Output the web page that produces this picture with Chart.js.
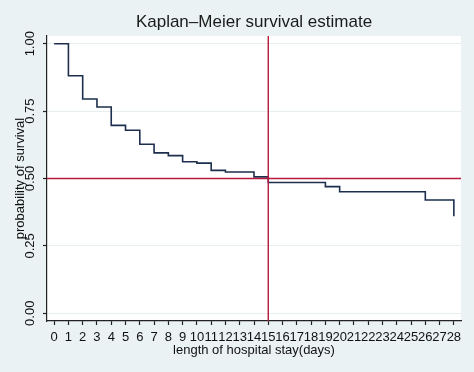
<!DOCTYPE html>
<html>
<head>
<meta charset="utf-8">
<script src="https://cdn.jsdelivr.net/npm/chart.js@4.4.1/dist/chart.umd.min.js"></script>
<style>
  html, body { margin: 0; padding: 0; background: #eaf2f3; }
  #wrap { width: 474px; height: 372px; }
</style>
</head>
<body>
<div id="wrap"><canvas id="kmChart" width="474" height="372"></canvas></div>
<script>
// Kaplan-Meier steps
const days = [0, 1, 2, 3, 4, 5, 6, 7, 8, 9, 10, 11, 12, 14, 15, 19, 20, 26, 28];
const survival = [1.00, 0.881, 0.795, 0.765, 0.697, 0.679, 0.627, 0.595, 0.585, 0.562, 0.557, 0.530, 0.524, 0.506, 0.485, 0.470, 0.451, 0.420, 0.360];
const xTicks = [0, 1, 2, 3, 4, 5, 6, 7, 8, 9, 10, 11, 12, 13, 14, 15, 16, 17, 18, 19, 20, 21, 22, 23, 24, 25, 26, 27, 28];
const yTicks = [0, 0.25, 0.5, 0.75, 1];
const medianSurvival = 0.5;
const medianDay = 15;

const X_MIN = -0.5, X_MAX = 28.5;
const Y_MIN = -0.0286, Y_MAX = 1.0286;

const navy = '#1d2f4d';
const red = '#b8183c';
const font = 'Arial, "Liberation Sans", sans-serif';

// white plot region
const plotBg = {
    id: 'plotBg',
    beforeDraw(chart) {
        const { ctx, chartArea: a } = chart;
        ctx.save();
        ctx.fillStyle = '#ffffff';
        ctx.fillRect(a.left, a.top, a.right - a.left, a.bottom - a.top);
        ctx.restore();
    }
};

new Chart(document.getElementById('kmChart'), {
    type: 'line',
    data: {
        datasets: [
            {
                data: days.map((d, i) => ({ x: d, y: survival[i] })),
                stepped: true,
                borderColor: navy,
                borderWidth: 1.6,
                pointRadius: 0,
                fill: false,
                order: 2
            },
            {
                data: [{ x: X_MIN, y: medianSurvival }, { x: X_MAX, y: medianSurvival }],
                borderColor: red,
                borderWidth: 1.4,
                pointRadius: 0,
                fill: false,
                order: 1
            },
            {
                data: [{ x: medianDay, y: Y_MIN }, { x: medianDay, y: Y_MAX }],
                borderColor: red,
                borderWidth: 1.4,
                pointRadius: 0,
                fill: false,
                order: 1
            }
        ]
    },
    options: {
        responsive: false,
        animation: false,
        layout: { padding: { left: 0, right: 13, top: 0, bottom: 0 } },
        plugins: {
            legend: { display: false },
            tooltip: { enabled: false },
            title: {
                display: true,
                text: 'Kaplan\u2013Meier survival estimate',
                fullSize: false,
                color: '#1a1a1a',
                font: { family: font, size: 17, weight: 'normal', lineHeight: 1.2 },
                padding: { top: 12, bottom: 3.6 }
            }
        },
        scales: {
            x: {
                type: 'linear',
                min: X_MIN,
                max: X_MAX,
                afterBuildTicks: s => { s.ticks = xTicks.map(v => ({ value: v })); },
                afterFit: s => { s.height = 51; },
                border: { display: true, color: '#222', width: 1.2 },
                grid: { display: true, drawOnChartArea: false, drawTicks: true, tickLength: 4, tickColor: '#222', tickWidth: 1.2 },
                ticks: {
                    autoSkip: false, maxRotation: 0, minRotation: 0, padding: 5,
                    color: '#111', font: { family: font, size: 13 }
                },
                title: {
                    display: true,
                    text: 'length of hospital stay(days)',
                    color: '#111',
                    font: { family: font, size: 13 },
                    padding: { top: 0, bottom: 14 }
                }
            },
            y: {
                type: 'linear',
                min: Y_MIN,
                max: Y_MAX,
                afterBuildTicks: s => { s.ticks = yTicks.map(v => ({ value: v })); },
                afterFit: s => { s.width = 47; },
                border: { display: true, color: '#222', width: 1.2 },
                grid: { display: true, color: '#e6eef0', lineWidth: 1, drawTicks: true, tickLength: 4, tickColor: '#222', tickWidth: 1.2 },
                ticks: {
                    minRotation: 90, maxRotation: 90, crossAlign: 'center', padding: 0,
                    color: '#111', font: { family: font, size: 13 },
                    callback: v => v.toFixed(2)
                },
                title: {
                    display: true,
                    text: 'probability of survival',
                    color: '#111',
                    font: { family: font, size: 13 },
                    padding: { top: 13, bottom: 0 }
                }
            }
        }
    },
    plugins: [plotBg]
});
</script>
</body>
</html>
